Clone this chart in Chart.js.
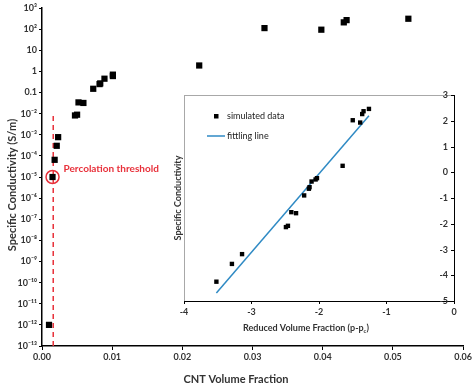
<!DOCTYPE html>
<html>
<head>
<meta charset="utf-8">
<script src="https://cdn.jsdelivr.net/npm/chart.js@4.4.0/dist/chart.umd.min.js"></script>
<style>
  html, body { margin: 0; padding: 0; background: #fff; }
  #wrap { position: relative; width: 474px; height: 387px; }
  #mainChart { position: absolute; left: 0; top: 0; }
  #insetChart { position: absolute; left: 165px; top: 88px; }
</style>
</head>
<body>
<div id="wrap">
  <canvas id="mainChart" width="474" height="387"></canvas>
  <canvas id="insetChart" width="300" height="250"></canvas>
</div>
<script>
// Main plot: conductivity vs CNT volume fraction
const cntFraction = [0.0010, 0.0015, 0.0018, 0.0021, 0.0023, 0.0047, 0.0050, 0.0052, 0.0059,
  0.0073, 0.0082, 0.0083, 0.0089, 0.0101, 0.0101, 0.0224, 0.0317, 0.0398, 0.0430, 0.0434, 0.0522];
const conductivity = [1e-12, 1e-5, 6.5e-5, 3e-4, 7.7e-4, 0.0082, 0.0089, 0.034, 0.032,
  0.15, 0.25, 0.27, 0.45, 0.7, 0.6, 1.9, 112, 94, 209, 267, 310];

const xTickValues = [0, 0.01, 0.02, 0.03, 0.04, 0.05, 0.06];
const yTickValues = [1e-13, 1e-12, 1e-11, 1e-10, 1e-9, 1e-8, 1e-7, 1e-6, 1e-5, 1e-4, 1e-3, 1e-2, 0.1, 1, 10, 100, 1000];
const yTickLabels = ["10⁻¹³", "10⁻¹²", "10⁻¹¹", "10⁻¹⁰", "10⁻⁹", "10⁻⁸", "10⁻⁷", "10⁻⁶", "10⁻⁵",
  "10⁻⁴", "10⁻³", "10⁻²", "0.1", "1", "10", "10²", "10³"];

const thresholdX = 0.0016;
const thresholdSpan = [1e-13, 0.01];
const thresholdPoint = { x: 0.0015, y: 1e-5 };

// Inset: log conductivity vs reduced volume fraction
const reducedFraction = [-3.52, -3.29, -3.14, -2.49, -2.46, -2.41, -2.34, -2.22, -2.15, -2.14,
  -2.11, -2.05, -2.03, -1.65, -1.50, -1.39, -1.36, -1.34, -1.26];
const logConductivity = [-4.25, -3.56, -3.18, -2.13, -2.08, -1.55, -1.59, -0.90, -0.64, -0.58,
  -0.36, -0.28, -0.23, 0.25, 2.02, 1.93, 2.26, 2.37, 2.46];
const fitX = [-3.52, -1.26];
const fitY = [-4.69, 2.19];

const FONT = "Lato, 'Noto Sans', sans-serif";
const TEXT = "#333";
const RED = "#e8303a";

// axis titles and annotation text, placed by hand
const mainText = {
  id: "mainText",
  afterDraw(chart) {
    const ctx = chart.ctx;
    const xs = chart.scales.x, ys = chart.scales.y;
    ctx.save();
    ctx.fillStyle = TEXT;
    ctx.font = "bold 11px " + FONT;
    ctx.textAlign = "center";
    ctx.textBaseline = "middle";
    ctx.fillText("CNT Volume Fraction", 236, 379);
    ctx.translate(12, 185);
    ctx.rotate(-Math.PI / 2);
    ctx.fillText("Specific Conductivity (S/m)", 0, 0);
    ctx.restore();

    ctx.save();
    ctx.fillStyle = RED;
    ctx.font = "bold 10px " + FONT;
    ctx.textAlign = "left";
    ctx.textBaseline = "middle";
    ctx.fillText("Percolation threshold",
      xs.getPixelForValue(thresholdPoint.x) + 11,
      ys.getPixelForValue(thresholdPoint.y) - 8);
    ctx.restore();
  }
};

new Chart(document.getElementById("mainChart"), {
  type: "scatter",
  data: {
    datasets: [
      {
        label: "threshold circle",
        data: [thresholdPoint],
        pointStyle: "circle",
        pointRadius: 6.5,
        borderColor: RED,
        borderWidth: 1.5,
        backgroundColor: "rgba(0,0,0,0)",
        order: 0
      },
      {
        label: "conductivity",
        data: cntFraction.map((x, i) => ({ x: x, y: conductivity[i] })),
        pointStyle: "rect",
        pointRadius: 4.4,
        backgroundColor: "#000",
        borderColor: "#000",
        borderWidth: 0,
        order: 1
      },
      {
        label: "threshold",
        data: thresholdSpan.map(y => ({ x: thresholdX, y: y })),
        showLine: true,
        borderColor: RED,
        borderWidth: 1.5,
        borderDash: [5, 4],
        pointRadius: 0,
        order: 2
      }
    ]
  },
  options: {
    responsive: false,
    devicePixelRatio: 1,
    animation: false,
    events: [],
    layout: { padding: { top: 5, right: 6, left: 0, bottom: 0 } },
    plugins: { legend: { display: false }, tooltip: { enabled: false } },
    scales: {
      x: {
        type: "linear",
        min: 0,
        max: 0.06,
        afterBuildTicks: s => { s.ticks = xTickValues.map(v => ({ value: v })); },
        afterFit: s => { s.height = 41; },
        ticks: {
          autoSkip: false,
          maxRotation: 0,
          padding: 2,
          color: TEXT,
          font: { family: FONT, size: 9, weight: "bold" },
          callback: v => v.toFixed(2)
        },
        grid: { drawOnChartArea: false, tickLength: 4, color: "#000" },
        border: { color: "#000", width: 1.5 }
      },
      y: {
        type: "logarithmic",
        min: 1e-13,
        max: 1000,
        afterBuildTicks: s => { s.ticks = yTickValues.map(v => ({ value: v })); },
        afterFit: s => { s.width = 42; },
        ticks: {
          autoSkip: false,
          padding: 2,
          color: TEXT,
          font: { family: FONT, size: 9, weight: "bold" },
          callback: (v, i) => yTickLabels[i]
        },
        grid: { drawOnChartArea: false, tickLength: 3, color: "#000" },
        border: { color: "#000", width: 1.5 }
      }
    }
  },
  plugins: [mainText]
});

// inset: frame, right-axis labels inside the box, legend and titles
const insetDecor = {
  id: "insetDecor",
  beforeDraw(chart) {
    const a = chart.chartArea, ctx = chart.ctx;
    ctx.save();
    ctx.strokeStyle = "#a8a8a8";
    ctx.lineWidth = 1;
    ctx.strokeRect(a.left + 0.5, a.top + 0.5, a.right - a.left, a.bottom - a.top);
    ctx.restore();
  },
  afterDraw(chart) {
    const a = chart.chartArea, ctx = chart.ctx;
    const ys = chart.scales.y;
    ctx.save();

    // y ticks and labels on the inner side of the right axis
    ctx.strokeStyle = "#000";
    ctx.lineWidth = 1;
    ctx.fillStyle = TEXT;
    ctx.font = "bold 9px " + FONT;
    ctx.textAlign = "right";
    ctx.textBaseline = "middle";
    ys.ticks.forEach(t => {
      const py = Math.round(ys.getPixelForValue(t.value)) + 0.5;
      ctx.beginPath();
      ctx.moveTo(a.right, py);
      ctx.lineTo(a.right - 3, py);
      ctx.stroke();
      ctx.fillText(String(t.value), a.right - 6, py);
    });

    // legend
    ctx.font = "9px " + FONT;
    ctx.textAlign = "left";
    chart.data.datasets.forEach((ds, i) => {
      const y = a.top + 21 + i * 20;
      if (ds.showLine) {
        ctx.strokeStyle = ds.borderColor;
        ctx.lineWidth = 1.5;
        ctx.beginPath();
        ctx.moveTo(a.left + 23, y);
        ctx.lineTo(a.left + 41, y);
        ctx.stroke();
      } else {
        ctx.fillStyle = ds.backgroundColor;
        ctx.fillRect(a.left + 30, y - 2, 4.5, 4.5);
      }
      ctx.fillStyle = "#222";
      ctx.fillText(ds.label, a.left + 43, y);
    });

    // axis titles
    ctx.fillStyle = TEXT;
    ctx.font = "bold 9px " + FONT;
    const main = "Reduced Volume Fraction (p-p";
    const w1 = ctx.measureText(main).width;
    ctx.font = "bold 6px " + FONT;
    const w2 = ctx.measureText("c").width;
    ctx.font = "bold 9px " + FONT;
    const w3 = ctx.measureText(")").width;
    const x0 = 141 - (w1 + w2 + w3) / 2;
    ctx.fillText(main, x0, 240);
    ctx.font = "bold 6px " + FONT;
    ctx.fillText("c", x0 + w1, 243);
    ctx.font = "bold 9px " + FONT;
    ctx.fillText(")", x0 + w1 + w2, 240);

    ctx.translate(13, 110);
    ctx.rotate(-Math.PI / 2);
    ctx.textAlign = "center";
    ctx.fillText("Specific Conductivity", 0, 0);
    ctx.restore();
  }
};

new Chart(document.getElementById("insetChart"), {
  type: "scatter",
  data: {
    datasets: [
      {
        label: "simulated data",
        data: reducedFraction.map((x, i) => ({ x: x, y: logConductivity[i] })),
        pointStyle: "rect",
        pointRadius: 3.1,
        backgroundColor: "#000",
        borderWidth: 0,
        order: 0
      },
      {
        label: "fittling line",
        data: fitX.map((x, i) => ({ x: x, y: fitY[i] })),
        showLine: true,
        borderColor: "#2f8ac4",
        borderWidth: 1.5,
        pointRadius: 0,
        order: 1
      }
    ]
  },
  options: {
    responsive: false,
    devicePixelRatio: 1,
    animation: false,
    events: [],
    layout: { padding: { top: 7, right: 0, left: 19, bottom: 0 } },
    plugins: { legend: { display: false }, tooltip: { enabled: false } },
    scales: {
      x: {
        type: "linear",
        min: -4,
        max: 0,
        afterFit: s => { s.height = 37; },
        ticks: {
          stepSize: 1,
          maxRotation: 0,
          padding: 3,
          color: TEXT,
          font: { family: FONT, size: 9, weight: "bold" }
        },
        grid: { drawOnChartArea: false, tickLength: 3, color: "#000" },
        border: { color: "#000", width: 1 }
      },
      y: {
        type: "linear",
        position: "right",
        min: -5,
        max: 3,
        afterFit: s => { s.width = 11; },
        ticks: { stepSize: 1, display: false },
        grid: { drawOnChartArea: false, drawTicks: false },
        border: { color: "#000", width: 1 }
      }
    }
  },
  plugins: [insetDecor]
});
</script>
</body>
</html>
